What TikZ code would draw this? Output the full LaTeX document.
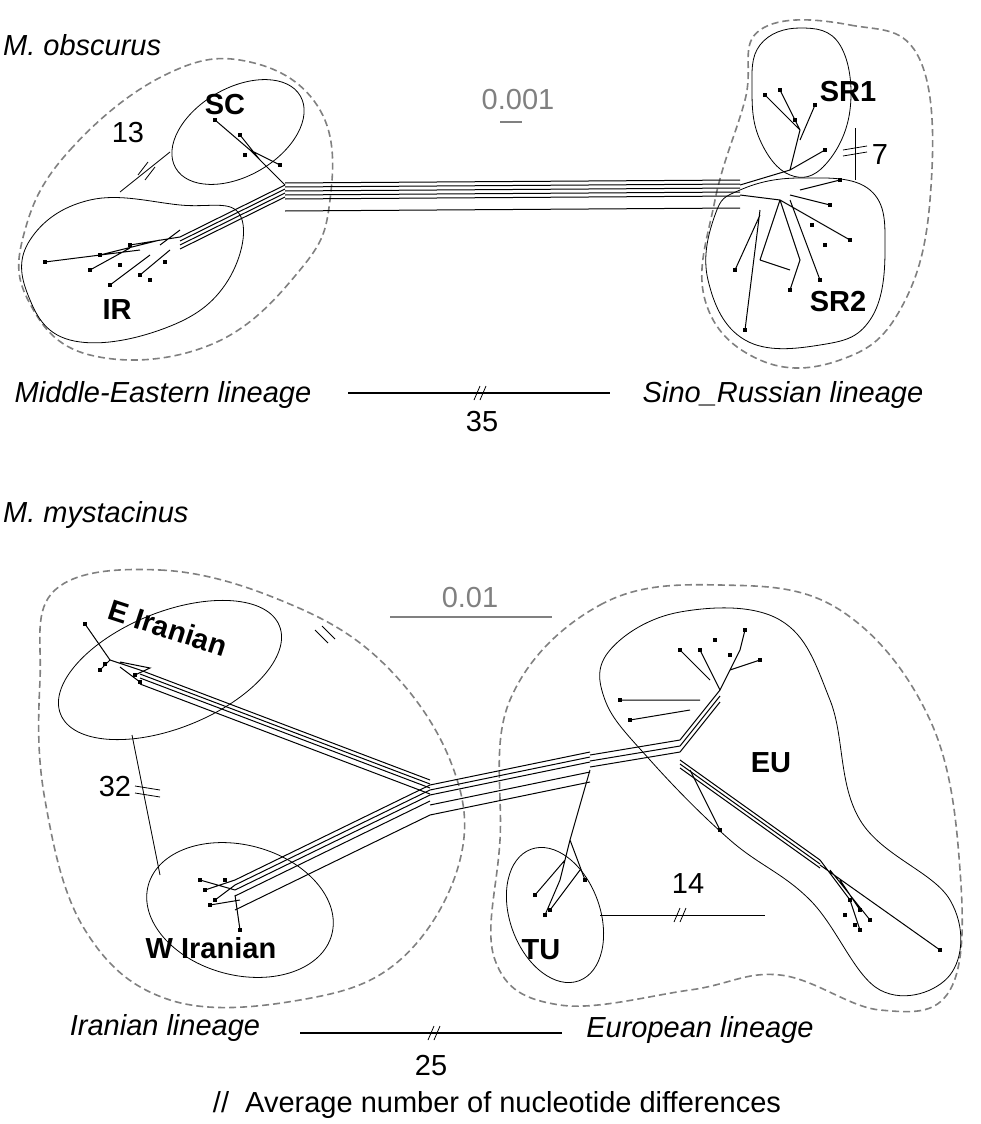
\documentclass[tikz,border=0pt]{standalone}
\usepackage{fontspec}
\setmainfont{Liberation Sans}
\begin{document}
\begin{tikzpicture}[x=1pt,y=-1pt,
  lab/.style={font=\fontsize{29}{32}\selectfont\itshape,inner sep=0},
  grp/.style={font=\fontsize{29}{32}\selectfont\bfseries,inner sep=0},
  num/.style={font=\fontsize{29}{32}\selectfont,inner sep=0},
  outer/.style={draw=gray,dash pattern=on 7pt off 4pt,line width=1.6pt},
  inner/.style={draw=black,line width=0.8pt},
  net/.style={line width=1pt},
  tip/.style={fill=black,minimum size=4pt,inner sep=0,rectangle}]
\useasboundingbox (0,0) rectangle (981,1124);
% ============ TOP ============
\node[lab,anchor=west] (t1) at (3,45) {M. obscurus};
\node[num,text=gray] (sb1) at (518,100) {0.001};
\draw[gray,line width=2.5pt] (500,122) -- (522,122);
\draw[outer] plot[smooth cycle,tension=0.7] coordinates {(25,230) (70,150) (165,75) (250,62) (320,110) (330,200) (300,270) (210,345) (90,355) (28,300)};
\draw[outer] plot[smooth cycle,tension=0.7] coordinates {(760,30) (850,25) (920,60) (930,200) (900,310) (840,360) (760,360) (705,300) (715,200) (745,100)};
\draw[inner,rotate around={30:(238,132)}] (238,132) ellipse (72 and 44);
\draw[inner] plot[smooth cycle,tension=0.7] coordinates {(30,240) (90,200) (180,205) (240,215) (225,285) (160,330) (70,340) (28,295)};
\draw[inner] plot[smooth cycle,tension=0.7] coordinates {(760,45) (800,28) (840,45) (850,110) (825,165) (790,175) (760,140) (752,90)};
\draw[inner] plot[smooth cycle,tension=0.7] coordinates {(740,190) (800,178) (870,190) (885,250) (870,320) (820,345) (745,340) (708,280) (715,215)};
\node[grp] (sc) at (225,105) {SC};
\node[grp] (ir) at (117,310) {IR};
\node[grp] (sr1) at (848,92) {SR1};
\node[grp] (sr2) at (838,302) {SR2};
\foreach \d in {0,4,8,12,16,28}
  \draw[net] (285,183+\d) -- (740,180+\d);
\foreach \d in {0,4,8,12}
  \draw[net] (285,185+\d) -- (180,237+\d);
\draw[net] (180,237) -- (130,245) (160,240) -- (100,255) (140,250) -- (45,262) (150,255) -- (110,285) (170,250) -- (140,275) (130,248) -- (90,270) (160,245)--(180,230);
\foreach \p in {(45,262),(100,255),(110,285),(140,275),(90,270),(130,245),(165,262),(120,265),(150,280)} \node[tip] at \p {};
\draw[net] (285,185) -- (250,150) -- (215,120) (250,150) -- (280,165) (260,160) -- (240,135);
\foreach \p in {(215,120),(280,165),(240,135),(245,155)} \node[tip] at \p {};
\draw[net] (740,185) -- (790,170) -- (800,130) -- (780,90) (800,130) -- (765,95) (790,170) -- (825,150) (800,140)--(815,105);
\foreach \p in {(780,90),(765,95),(815,105),(825,150),(795,120)} \node[tip] at \p {};
\draw[net] (740,195) -- (780,200) -- (800,260) -- (790,290) (780,200) -- (760,260) (760,260) -- (790,270) (780,200) -- (850,240) (760,210) -- (745,330) (760,215) -- (735,270) (790,195) -- (830,205) (800,190) -- (840,180) (790,200) -- (820,280);
\foreach \p in {(790,290),(850,240),(745,330),(735,270),(830,205),(820,280),(840,180),(812,225),(825,245)} \node[tip] at \p {};
\node[num] (n13) at (128,133) {13};
\draw[inner] (120,192) -- (170,152);
\draw[line width=0.8pt] (138,175) -- (148,162) (145,180) -- (155,167);
\node[num] (n7) at (880,155) {7};
\draw[inner] (855,128) -- (855,180);
\draw[line width=0.8pt] (843,150) -- (867,146) (843,156) -- (867,152);
\node[lab] (me) at (163,395) {Middle-Eastern lineage};
\node[lab] (sr) at (783,395) {Sino\_Russian lineage};
\draw[line width=1.8pt] (348,393) -- (610,393);
\draw[line width=0.8pt] (474,400) -- (480,386) (480,400) -- (486,386);
\node[num] (n35) at (482,422) {35};
% ============ BOTTOM ============
\node[lab,anchor=west] (t2) at (3,515) {M. mystacinus};
\node[num,text=gray] (sb2) at (470,598) {0.01};
\draw[gray,line width=2.5pt] (390,617) -- (552,617);
\draw[outer] plot[smooth cycle,tension=0.65] coordinates {(55,590) (160,570) (280,600) (380,660) (450,760) (460,860) (400,960) (300,1000) (170,1000) (85,930) (45,800) (40,680)};
\draw[outer] plot[smooth cycle,tension=0.65] coordinates {(510,700) (600,605) (720,585) (840,610) (930,720) (960,870) (950,990) (880,1010) (780,975) (690,990) (560,1005) (495,960) (500,840)};
\draw[inner,rotate around={22:(170,670)}] (170,670) ellipse (118 and 58);
\draw[inner,rotate around={-15:(240,910)}] (240,910) ellipse (95 and 65);
\draw[inner] plot[smooth cycle,tension=0.65] coordinates {(610,650) (680,612) (780,620) (830,700) (860,820) (950,900) (950,975) (880,990) (810,900) (730,840) (650,760) (605,700)};
\draw[inner,rotate around={-70:(555,915)}] (555,915) ellipse (70 and 45);
\node[grp,rotate=-18] (ei) at (168,628) {E Iranian};
\node[grp] (wi) at (211,948) {W Iranian};
\node[grp] (eu) at (771,763) {EU};
\node[grp] (tu) at (541,950) {TU};
\foreach \d in {0,4,8,14}
  \draw[net] (140,670+\d) -- (430,780+\d);
\foreach \d in {0,5,10,16,30}
  \draw[net] (430,785+\d) -- (235,880+\d);
\foreach \d in {0,5,10,20,30}
  \draw[net] (430,785+\d) -- (590,752+\d);
\draw[net] (140,670) -- (110,660) -- (85,624) (110,660) -- (100,670) (120,662) -- (150,668) -- (135,675) (120,667)--(140,682);
\foreach \p in {(85,624),(100,670),(135,675),(140,682),(105,664)} \node[tip] at \p {};
\draw[net] (235,880) -- (205,890) (235,885) -- (215,900) (235,895) -- (240,930) (240,900)--(210,905) (235,890)--(200,880);
\foreach \p in {(205,890),(215,900),(240,930),(210,905),(200,880),(225,880)} \node[tip] at \p {};
\foreach \d in {0,6,12}
  \draw[net] (590,755+\d) -- (680,740+\d) -- (720,690+\d);
\draw[net] (720,690) -- (740,650) -- (745,630) (720,690) -- (700,650) (730,670) -- (760,660) (710,680) -- (680,650) (700,700) -- (620,700) (690,710) -- (630,720);
\foreach \p in {(745,630),(700,650),(760,660),(680,650),(620,700),(630,720),(730,655),(715,640)} \node[tip] at \p {};
\foreach \d in {0,4,8}
  \draw[net] (680,760+\d) -- (820,860+\d);
\draw[net] (820,860) -- (850,900) -- (860,930) (820,865) -- (940,950) (830,870) -- (870,920) (840,880) -- (860,910) (690,770) -- (720,830);
\foreach \p in {(860,930),(940,950),(870,920),(860,910),(850,900),(720,830),(845,915),(855,925)} \node[tip] at \p {};
\draw[net] (590,770) -- (570,840) -- (560,880) -- (545,915) (570,840) -- (585,880) (565,860) -- (535,895) (580,870)--(550,910);
\foreach \p in {(545,915),(585,880),(535,895),(550,910)} \node[tip] at \p {};
\draw[line width=0.8pt] (315,630) -- (328,643) (322,626) -- (335,639);
\node[num] (n32) at (115,787) {32};
\draw[inner] (132,735) -- (160,875);
\draw[line width=0.8pt] (135,786) -- (160,790) (135,793) -- (160,797);
\node[num] (n14) at (688,884) {14};
\draw[inner] (600,915) -- (765,915);
\draw[line width=0.8pt] (674,922) -- (680,908) (680,922) -- (686,908);
\node[lab] (il) at (165,1028) {Iranian lineage};
\node[lab] (el) at (700,1030) {European lineage};
\draw[line width=1.8pt] (300,1033) -- (562,1033);
\draw[line width=0.8pt] (428,1040) -- (434,1026) (434,1040) -- (440,1026);
\node[num] (n25) at (431,1066) {25};
\node[num] (leg) at (497,1105) {//\ \ Average number of nucleotide differences};
\end{tikzpicture}
\end{document}
